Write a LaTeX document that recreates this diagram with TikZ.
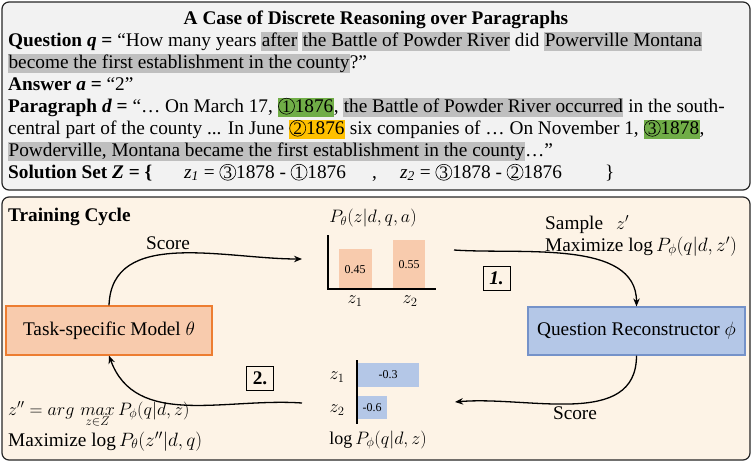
\RequirePackage{fix-cm}
\documentclass[tikz,border=0pt]{standalone}
\usepackage{fontspec}
\setmainfont{Liberation Serif}
\usetikzlibrary{arrows.meta}
\definecolor{topgray}{HTML}{F2F2F2}
\definecolor{beige}{HTML}{FDF3E6}
\definecolor{hlgray}{HTML}{BFBFBF}
\definecolor{hlgreen}{HTML}{70AD47}
\definecolor{hlorange}{HTML}{FFC000}
\definecolor{taskfill}{HTML}{F8CBAD}
\definecolor{taskdraw}{HTML}{ED7D31}
\definecolor{qrfill}{HTML}{B4C7E7}
\definecolor{qrdraw}{HTML}{7592C9}
\newcommand\bodyfont{\fontsize{19.3}{22}\selectfont}
\newcommand\mathfnt{\fontsize{18}{20}\selectfont}
\newcommand\smallfnt{\fontsize{12}{14}\selectfont}
\newcommand\hl[2]{{\setlength\fboxsep{0pt}\colorbox{#1}{\rule[-0.25em]{0pt}{0.98em}\kern0.4pt#2\kern0.4pt}}}
\newcommand\cn[1]{\tikz[baseline=(cnx.base)]\node[draw,circle,inner sep=0pt,minimum size=16pt,line width=0.6pt,font=\fontsize{17.5}{17.5}\selectfont](cnx){#1};}
\begin{document}
\begin{tikzpicture}[x=1pt,y=-1pt,
  txt/.style={inner sep=0pt,anchor=base west,font=\bodyfont},
  ctxt/.style={inner sep=0pt,anchor=base,font=\bodyfont},
  mth/.style={inner sep=0pt,font=\mathfnt},
  val/.style={inner sep=0pt,font=\smallfnt},
  numbox/.style={draw,line width=1pt,inner sep=0pt,minimum width=27pt,minimum height=24pt,font=\bodyfont\bfseries},
  arr/.style={line width=1.3pt,-{Stealth[length=8pt,width=6.5pt]}},
  axis/.style={line width=2pt}]
\useasboundingbox (0,0) rectangle (753,464);
% frames
\draw[rounded corners=7pt,fill=topgray,line width=1.2pt,draw=black!85] (2,2) rectangle (750,190);
\draw[rounded corners=7pt,fill=beige,line width=1.2pt,draw=black!85] (2,197) rectangle (750,460);
% top text
\node[ctxt,font=\bodyfont\bfseries] (title) at (376,24) {A Case of Discrete Reasoning over Paragraphs};
\node[txt] (l1) at (8,46) {\textbf{Question \textit{q} =} “How many years \hl{hlgray}{after} \hl{hlgray}{the Battle of Powder River} did \hl{hlgray}{Powerville Montana}};
\node[txt] (l2) at (8,68) {\hl{hlgray}{become the first establishment in the county}?”};
\node[txt] (l3) at (8,90) {\textbf{Answer \textit{a} =} “2”};
\node[txt] (l4) at (8,112) {\textbf{Paragraph \textit{d} =} “… On March 17, \hl{hlgreen}{\cn{1}1876}, \hl{hlgray}{the Battle of Powder River occurred} in the south-};
\node[txt] (l5) at (8,134) {central part of the county ... In June \hl{hlorange}{\cn{2}1876} six companies of … On November 1, \hl{hlgreen}{\cn{3}1878},};
\node[txt] (l6) at (8,156) {\hl{hlgray}{Powderville, Montana became the first establishment in the county}…”};
\node[txt] (l7) at (8,178) {\textbf{Solution Set \textit{Z} = \{}};
\node[txt] (s1) at (184,178) {\textit{z}\textsubscript{\textit{1}} = \cn{3}1878 - \cn{1}1876};
\node[txt] (s2) at (372,178) {,};
\node[txt] (s3) at (400,178) {\textit{z}\textsubscript{\textit{2}} = \cn{3}1878 - \cn{2}1876};
\node[txt] (s4) at (605,178) {\}};
% training cycle
\node[txt,font=\bodyfont\bfseries] (tc) at (8,221) {Training Cycle};
\node[draw=taskdraw,fill=taskfill,line width=1.2pt,minimum width=206pt,minimum height=49pt,inner sep=0pt,font=\bodyfont] (task) at (109,330.5) {Task-specific Model $\theta$};
\node[draw=qrdraw,fill=qrfill,line width=1.2pt,minimum width=217pt,minimum height=48pt,inner sep=0pt,font=\bodyfont] (qr) at (636.5,331) {Question Reconstructor $\phi$};
% chart 1
\fill[taskfill] (339,249) rectangle (372,289);
\fill[taskfill] (393,240) rectangle (425,289);
\draw[axis] (328,235) -- (328,289) -- (436,289);
\node[val] (v1) at (355,270) {0.45};
\node[val] (v2) at (409,265) {0.55};
\node[mth] (za) at (355,301) {$z_1$};
\node[mth] (zb) at (410,301) {$z_2$};
\node[mth] (p1) at (373,218) {$P_\theta(z|d,q,a)$};
\coordinate (c1in) at (302,259);
\coordinate (c1out) at (454,250);
% chart 2
\fill[qrfill] (358,363) rectangle (419,387);
\fill[qrfill] (358,396) rectangle (387,419);
\draw[axis] (357,360) -- (357,424);
\node[val] (v3) at (388,375) {-0.3};
\node[val] (v4) at (372,408) {-0.6};
\node[mth] (zc) at (337,377) {$z_1$};
\node[mth] (zd) at (337,410) {$z_2$};
\node[mth] (p2) at (378,440) {$\log P_\phi(q|d,z)$};
\coordinate (c3end) at (455,402);
\coordinate (c4start) at (302,403);
% labels
\node[ctxt] (score1) at (168,249) {Score};
\node[ctxt] (score2) at (575,419) {Score};
\node[txt] (samp) at (545,229) {Sample};
\node[txt,font=\mathfnt] (zp) at (616,229) {$z'$};
\node[txt] (maxq) at (545,251) {Maximize $\log P_\phi(q|d,z')$};
\node[txt,font=\mathfnt] (zpp) at (8,415) {$z'' = arg\,\mathop{max}\limits_{\raisebox{-4pt}{$\scriptstyle z\in Z$}} P_\phi(q|d,z)$};
\node[txt] (maxt) at (8,446) {Maximize $\log P_\theta(z''|d,q)$};
\node[numbox,font=\bodyfont\bfseries\itshape] (one) at (496.5,278.5) {1.};
\node[numbox] (two) at (260,378) {2.};
% arrows
\draw[arr] (task.north) to[out=88,in=180] (c1in);
\draw[arr] (c1out) to[out=-4,in=90,looseness=0.9] (qr.north);
\draw[arr] (qr.south) to[out=-90,in=5] (c3end);
\draw[arr] (c4start) to[out=176,in=-70] (task.south);
\end{tikzpicture}
\end{document}
